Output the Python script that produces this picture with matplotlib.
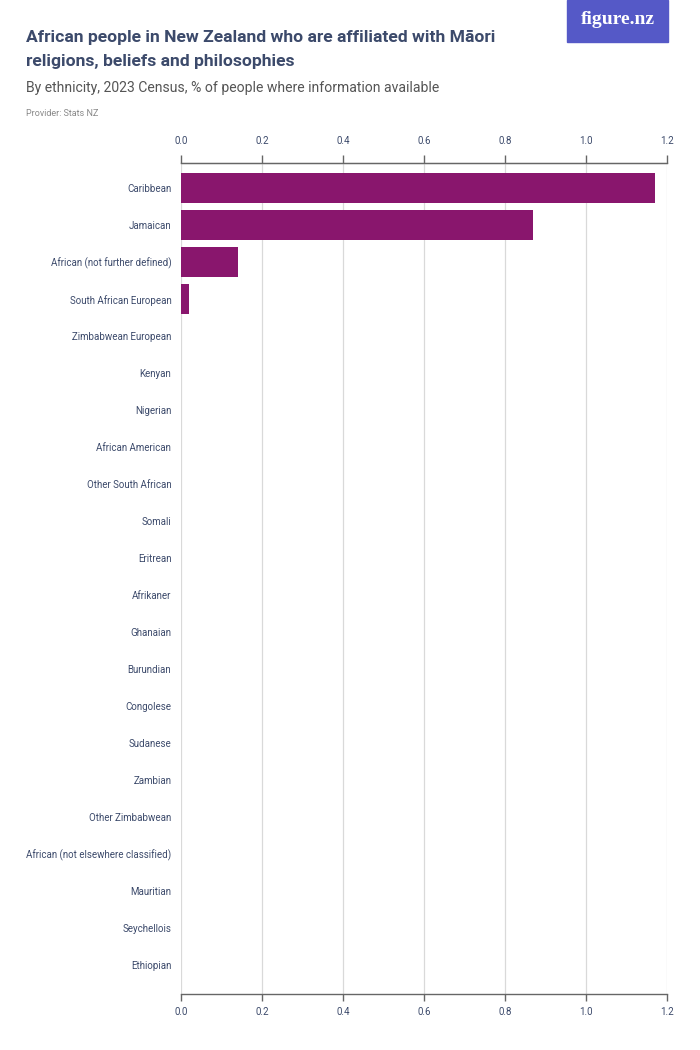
import matplotlib.pyplot as plt
import matplotlib.patches as mpatches

# data (top to bottom)
categories = ["Caribbean", "Jamaican", "African (not further defined)",
              "South African European", "Zimbabwean European", "Kenyan",
              "Nigerian", "African American", "Other South African", "Somali",
              "Eritrean", "Afrikaner", "Ghanaian", "Burundian", "Congolese",
              "Sudanese", "Zambian", "Other Zimbabwean",
              "African (not elsewhere classified)", "Mauritian", "Seychellois",
              "Ethiopian"]
values = [1.17, 0.87, 0.14, 0.02, 0, 0, 0, 0, 0, 0, 0, 0, 0, 0, 0, 0, 0, 0,
          0, 0, 0, 0]
ticks = [0.0, 0.2, 0.4, 0.6, 0.8, 1.0, 1.2]

plt.rcParams['font.family'] = ['Roboto', 'DejaVu Sans']
navy = "#3c4a6b"
bar_col = "#89166d"

fig = plt.figure(figsize=(7, 10.5), dpi=100)
ax = fig.add_axes([0.2586, 0.0533, 0.6943, 0.7915])

y = list(range(len(categories)))
ax.barh(y, values, height=0.81, color=bar_col, zorder=3)
ax.set_ylim(len(categories) - 0.22, -0.68)
ax.set_xlim(0, 1.2)
ax.set_yticks(y)
ax.set_yticklabels(categories, fontsize=7, color=navy)
ax.set_xticks(ticks)
ax.set_xticklabels(["%.1f" % t for t in ticks], fontsize=7, color=navy)
ax.tick_params(axis='y', length=0, pad=7)
ax.tick_params(axis='x', length=5, color="#666666", width=1, pad=4)
ax.grid(axis='x', color="#d9d9d9", linewidth=0.9, zorder=0)
for s in ["left", "right"]:
    ax.spines[s].set_visible(False)
for s in ["top", "bottom"]:
    ax.spines[s].set_color("#666666")
    ax.spines[s].set_linewidth(1)

top = ax.secondary_xaxis('top')
top.set_xticks(ticks)
top.set_xticklabels(["%.1f" % t for t in ticks], fontsize=7, color=navy)
top.tick_params(length=6, color="#666666", width=1, pad=6)
top.spines['top'].set_color("#666666")

fig.text(0.037, 0.964, "African people in New Zealand who are affiliated with Māori",
         fontsize=12.6, fontweight='bold', color=navy, va='center')
fig.text(0.037, 0.941, "religions, beliefs and philosophies",
         fontsize=12.6, fontweight='bold', color=navy, va='center')
fig.text(0.037, 0.916, "By ethnicity, 2023 Census, % of people where information available",
         fontsize=10.1, color="#555555", va='center')
fig.text(0.037, 0.892, "Provider: Stats NZ", fontsize=6.5, color="#8a8a8a",
         va='center')

# logo box
fig.patches.append(mpatches.Rectangle((0.81, 0.96), 0.144, 0.04,
                                      transform=fig.transFigure,
                                      color="#5559c7", zorder=5))
fig.text(0.882, 0.981, "figure.nz", fontsize=14, color="white",
         family="Liberation Serif", fontweight='bold', ha='center',
         va='center', zorder=6)

plt.savefig("out.png", dpi=100)
